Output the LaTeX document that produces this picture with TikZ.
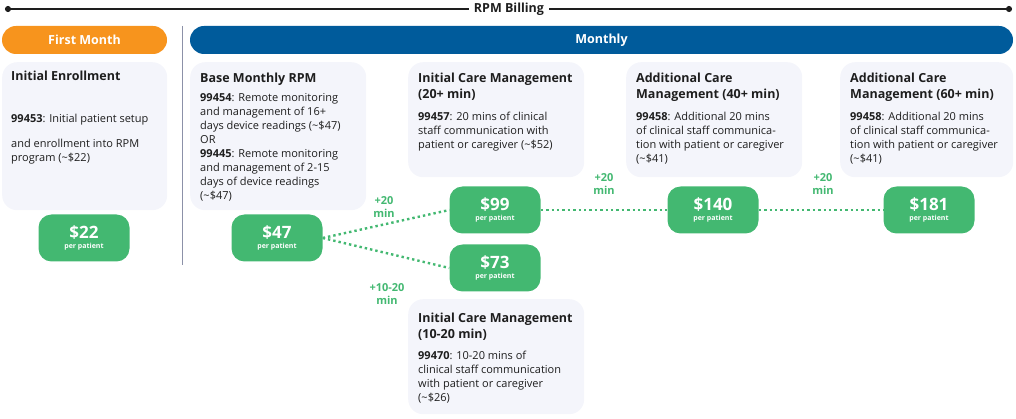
\documentclass[tikz,border=0pt]{standalone}
\usepackage{fontspec}
\setmainfont{Open Sans}
\usetikzlibrary{arrows.meta, positioning}
\definecolor{firstorange}{HTML}{F7941D}
\definecolor{monthblue}{HTML}{005B9B}
\definecolor{pricegreen}{HTML}{43B871}
\definecolor{cardgray}{HTML}{F4F5FB}
\definecolor{rulegray}{HTML}{8C91A8}
\definecolor{textdark}{HTML}{1E1E1E}

\begin{document}
\begin{tikzpicture}[x=1pt, y=-1pt,
  bar/.style={rounded corners=14pt, minimum height=28pt, text=white, font=\fontsize{12.5}{14}\selectfont\bfseries},
  card/.style={fill=cardgray, rounded corners=15pt, anchor=north west, minimum width=176pt, minimum height=115pt},
  cardtitle/.style={anchor=base west, align=left, inner sep=0pt, text=textdark, font=\fontsize{12.5}{16}\selectfont\bfseries},
  cardtext/.style={anchor=base west, align=left, inner sep=0pt, text=textdark, font=\fontsize{11}{14}\selectfont},
  price/.style={fill=pricegreen, rounded corners=13pt, minimum width=91pt, minimum height=47pt, text=white, align=center, font=\fontsize{17}{13}\selectfont\bfseries},
  timelabel/.style={text=pricegreen, align=center, font=\fontsize{11}{13.5}\selectfont\bfseries},
  upgrade/.style={pricegreen, line width=2.4pt, dash pattern=on 2.4pt off 3pt}
]
\useasboundingbox (0,0) rectangle (1016,419);

% billing header
\node[fill=white, inner xsep=5pt, text=textdark, font=\fontsize{12.5}{14}\selectfont\bfseries] (billing) at (509,9) {RPM Billing};
\coordinate (billstart) at (5,9);
\coordinate (billend) at (1012,9);
\draw[{Circle[length=6pt]}-, line width=1.6pt, textdark] (billstart) -- (billing.west);
\draw[-{Circle[length=6pt]}, line width=1.6pt, textdark] (billing.east) -- (billend);

\node[bar, fill=firstorange, minimum width=165pt] (firstbar) at (84.5,40) {First Month};
\node[bar, fill=monthblue, minimum width=823pt] (monthbar) at (601.5,40) {Monthly};
\draw[rulegray] (182,26) -- (182,265);

% cards (text nodes sit on the baseline of their last line)
\node[card, minimum width=165pt, minimum height=148pt] (enrollcard) at (2,62) {};
\node[cardtitle] (enrolltitle) at (11,81) {Initial Enrollment};
\node[cardtext] (enrolltext) at (11,162) {\textbf{99453}: Initial patient setup\\[11pt]
  and enrollment into RPM\\ program (\textasciitilde\$22)};

\node[card, minimum height=148pt] (basecard) at (190,62) {};
\node[cardtitle] (basetitle) at (200,83) {Base Monthly RPM};
\node[cardtext] (basetext) at (200,200) {\textbf{99454}: Remote monitoring\\ and management of 16+\\
  days device readings (\textasciitilde\$47)\\ OR\\ \textbf{99445}: Remote monitoring\\
  and management of 2-15\\ days of device readings\\ (\textasciitilde\$47)};

\node[card] (initcard) at (408,62) {};
\node[cardtitle] (inittitle) at (418,99) {Initial Care Management\\ (20+ min)};
\node[cardtext] (inittext) at (418,149) {\textbf{99457}: 20 mins of clinical\\
  staff communication with\\ patient or caregiver (\textasciitilde\$52)};

\node[card] (addcardA) at (626,62) {};
\node[cardtitle] (addtitleA) at (636,99) {Additional Care\\ Management (40+ min)};
\node[cardtext] (addtextA) at (636,163) {\textbf{99458}: Additional 20 mins\\
  of clinical staff communica-\\ tion with patient or caregiver\\ (\textasciitilde\$41)};

\node[card, minimum width=173pt] (addcardB) at (840,62) {};
\node[cardtitle] (addtitleB) at (850,99) {Additional Care\\ Management (60+ min)};
\node[cardtext] (addtextB) at (850,163) {\textbf{99458}: Additional 20 mins\\
  of clinical staff communica-\\ tion with patient or caregiver\\ (\textasciitilde\$41)};

\node[card] (shortcard) at (408,299) {};
\node[cardtitle] (shorttitle) at (418,338) {Initial Care Management\\ (10-20 min)};
\node[cardtext] (shorttext) at (418,401) {\textbf{99470}: 10-20 mins of\\
  clinical staff communication\\ with patient or caregiver\\ (\textasciitilde\$26)};

% prices
\node[price] (enrollprice) at (84,238) {\$22\\[-3pt]{\fontsize{7}{8}\selectfont per patient}};
\node[price] (baseprice) at (277,238) {\$47\\[-3pt]{\fontsize{7}{8}\selectfont per patient}};
\node[price] (initprice) at (495,210) {\$99\\[-3pt]{\fontsize{7}{8}\selectfont per patient}};
\node[price] (shortprice) at (495,268) {\$73\\[-3pt]{\fontsize{7}{8}\selectfont per patient}};
\node[price] (addpriceA) at (713,210) {\$140\\[-3pt]{\fontsize{7}{8}\selectfont per patient}};
\node[price] (addpriceB) at (929,210) {\$181\\[-3pt]{\fontsize{7}{8}\selectfont per patient}};

\draw[upgrade] (baseprice.east) -- (initprice.west);
\draw[upgrade] (baseprice.east) -- (shortprice.west);
\draw[upgrade] (initprice) -- (addpriceA);
\draw[upgrade] (addpriceA) -- (addpriceB);

\node[timelabel] (upA) at (384,207) {+20\\ min};
\node[timelabel] (upshort) at (387,294) {+10-20\\ min};
\node[timelabel] (upB) at (604,184) {+20\\ min};
\node[timelabel] (upC) at (823,184) {+20\\ min};
\end{tikzpicture}
\end{document}
